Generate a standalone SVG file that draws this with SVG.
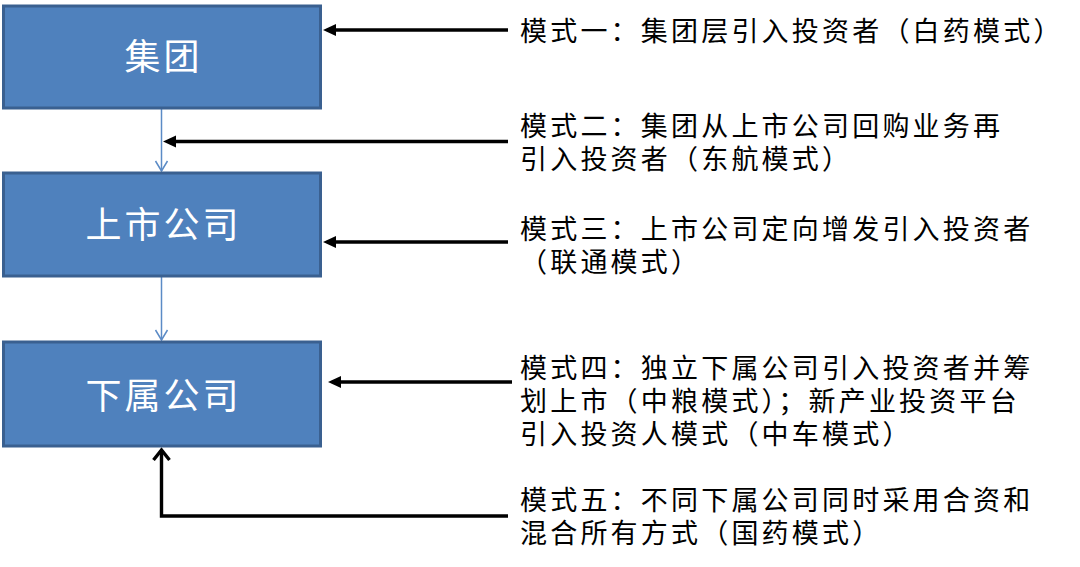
<svg xmlns="http://www.w3.org/2000/svg" width="1080" height="567" viewBox="0 0 1080 567">
<style>
.box{fill:#4F81BD;stroke:#3A6090;stroke-width:3}
.bt{fill:#fff;font-family:"Noto Sans CJK SC",sans-serif;font-size:36px;letter-spacing:3px;text-anchor:middle}
.lbl{fill:#000;font-family:"Noto Sans CJK SC",sans-serif;font-size:27px;letter-spacing:3.2px}
.blk{stroke:#000;stroke-width:3.4;fill:none}
.blu{stroke:#5B8BC6;stroke-width:1.5;fill:none}
</style>
<defs>
<marker id="fa" markerUnits="userSpaceOnUse" markerWidth="14" markerHeight="12" viewBox="0 0 14 12" refX="4" refY="6" orient="auto" overflow="visible">
<path d="M0,0 L13,6 L0,12 Z" fill="#000"/>
</marker>
<marker id="ba" markerUnits="userSpaceOnUse" markerWidth="12" markerHeight="14" viewBox="0 0 12 14" refX="10" refY="7" orient="auto" overflow="visible">
<path d="M0,1 L10,7 L0,13" fill="none" stroke="#5B8BC6" stroke-width="1.5"/>
</marker>
<marker id="oa" markerUnits="userSpaceOnUse" markerWidth="16" markerHeight="20" viewBox="0 0 16 20" refX="12" refY="10" orient="auto" overflow="visible">
<path d="M2,2 L12,10 L2,18" fill="none" stroke="#000" stroke-width="3.4"/>
</marker>
</defs>
<g id="connectors">
<path class="blu" d="M161.5,108 V171" marker-end="url(#ba)"/>
<path class="blu" d="M161.5,277 V340" marker-end="url(#ba)"/>
<path class="blk" d="M508,30 H332" marker-end="url(#fa)"/>
<path class="blk" d="M508,141.5 H172" marker-end="url(#fa)"/>
<path class="blk" d="M508,242 H332" marker-end="url(#fa)"/>
<path class="blk" d="M512,382 H337" marker-end="url(#fa)"/>
<path class="blk" d="M508,516 H161.5 V450" marker-end="url(#oa)"/>
</g>
<g id="node-jituan">
<rect class="box" x="3.5" y="6" width="317" height="102"/>
<text class="bt" x="163.5" y="70">集团</text>
</g>
<g id="node-shangshi">
<rect class="box" x="3.5" y="173" width="317" height="103"/>
<text class="bt" x="163.5" y="238">上市公司</text>
</g>
<g id="node-xiashu">
<rect class="box" x="3.5" y="342" width="317" height="104"/>
<text class="bt" x="163.5" y="409">下属公司</text>
</g>
<g id="mode1"><text class="lbl" x="520" y="41">模式一：集团层引入投资者（白药模式）</text></g>
<g id="mode2"><text class="lbl" x="520" y="136">模式二：集团从上市公司回购业务再</text><text class="lbl" x="520" y="169">引入投资者（东航模式）</text></g>
<g id="mode3"><text class="lbl" x="520" y="239">模式三：上市公司定向增发引入投资者</text><text class="lbl" x="520" y="272">（联通模式）</text></g>
<g id="mode4"><text class="lbl" x="520" y="378">模式四：独立下属公司引入投资者并筹</text><text class="lbl" x="520" y="411">划上市（中粮模式）；新产业投资平台</text><text class="lbl" x="520" y="444">引入投资人模式（中车模式）</text></g>
<g id="mode5"><text class="lbl" x="520" y="510">模式五：不同下属公司同时采用合资和</text><text class="lbl" x="520" y="543">混合所有方式（国药模式）</text></g>
</svg>
